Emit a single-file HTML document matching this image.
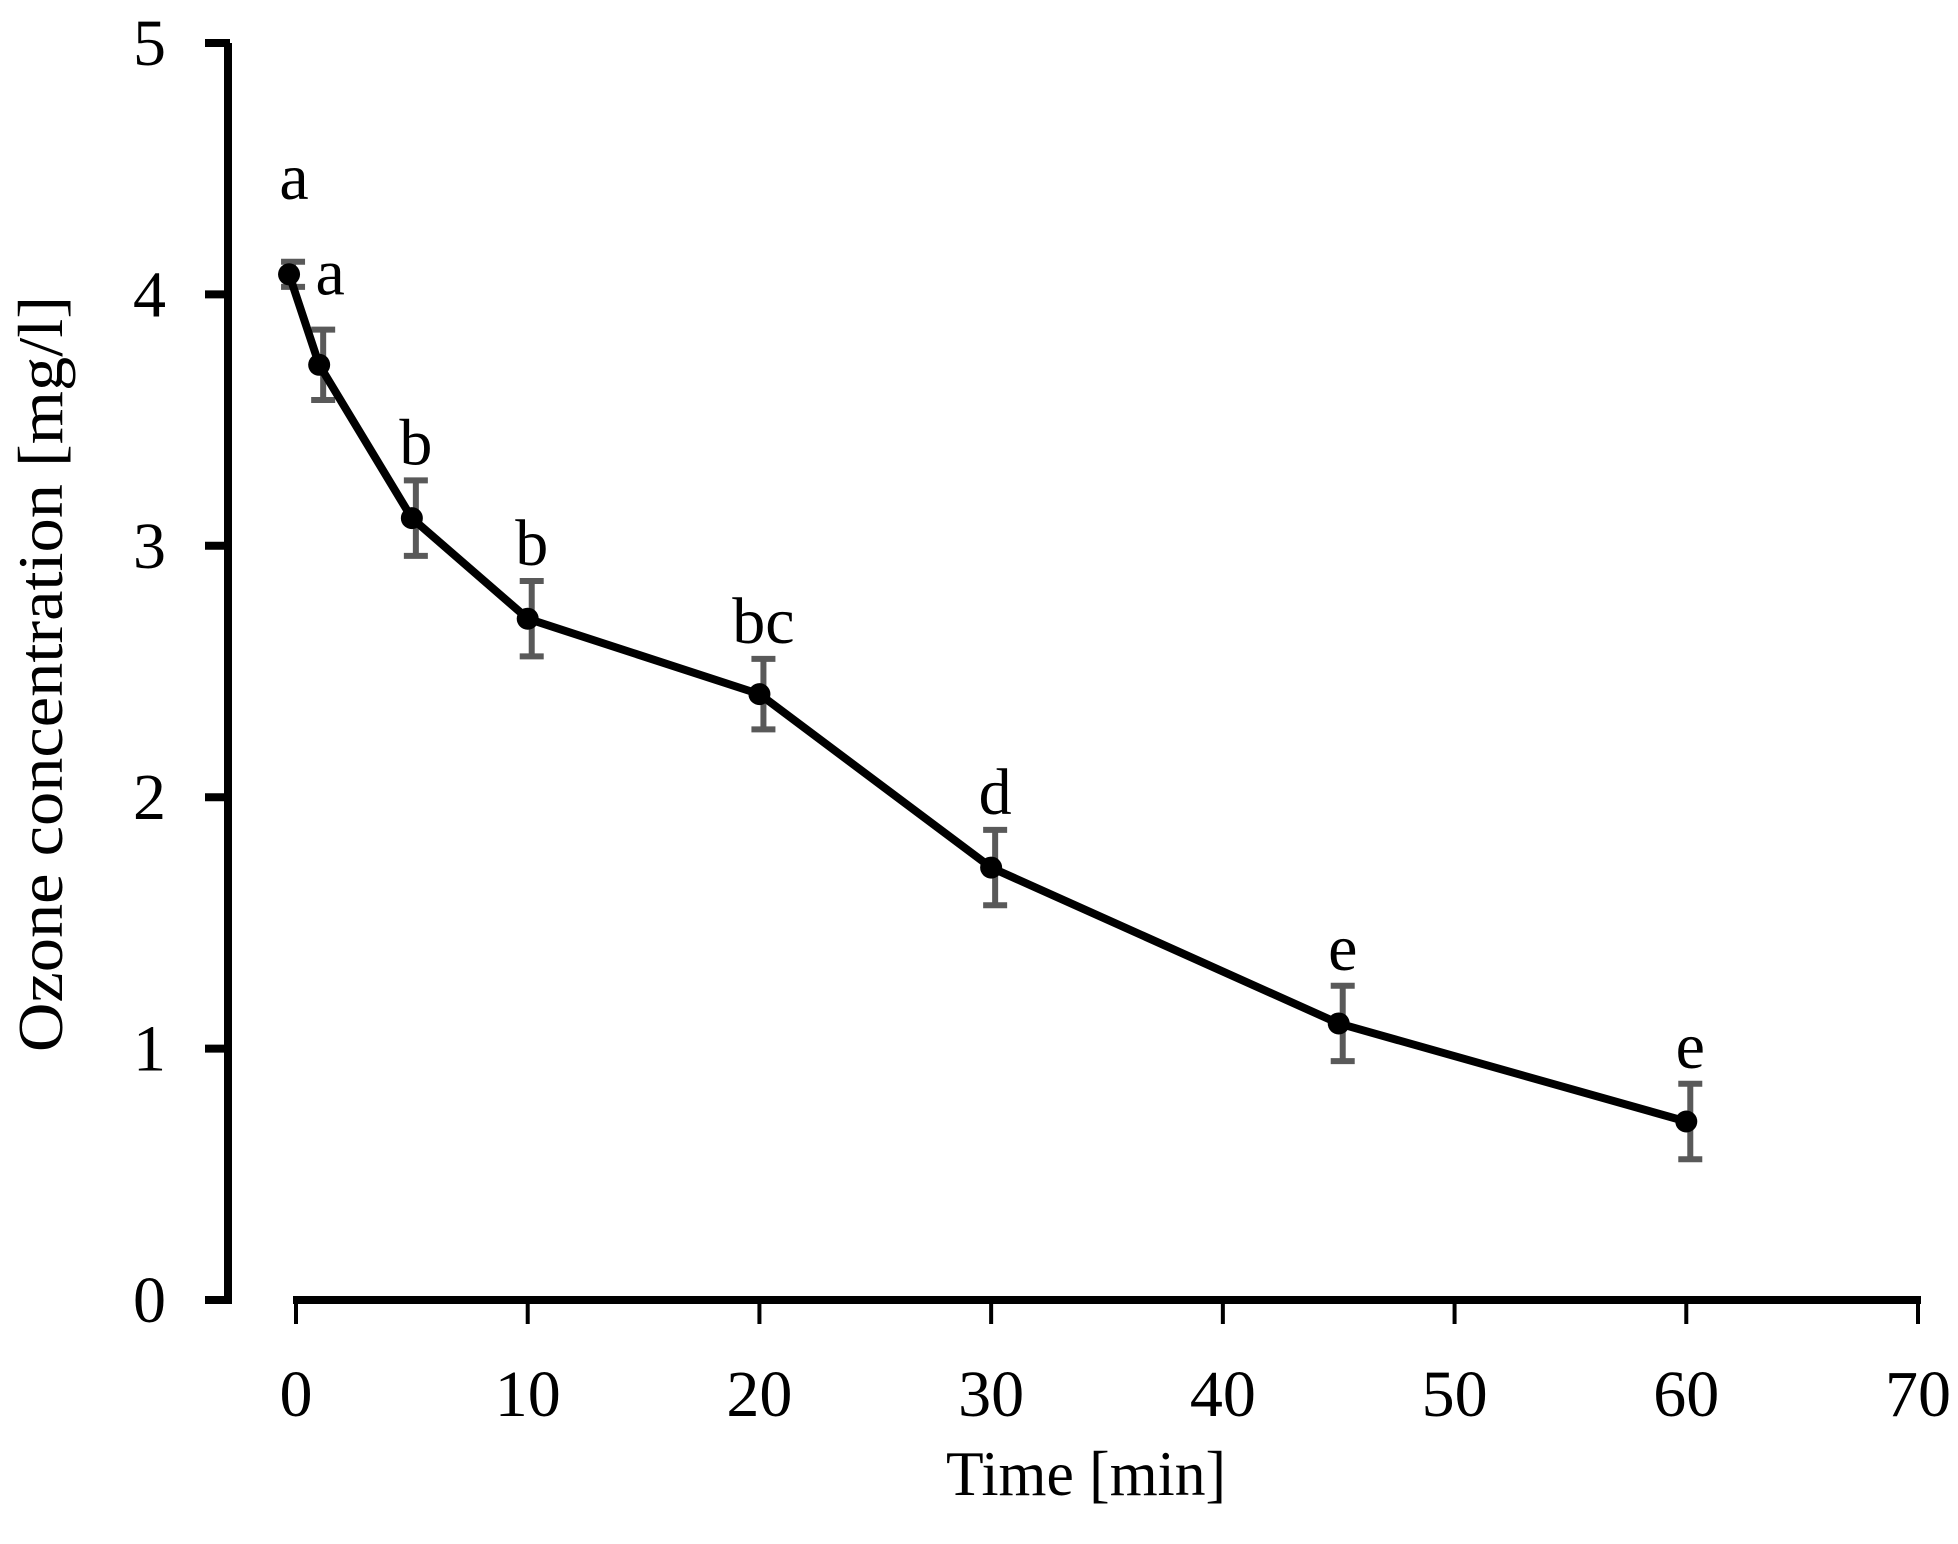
<!DOCTYPE html>
<html><head><meta charset="utf-8"><style>
html,body{margin:0;padding:0;background:#fff;}
svg{display:block;font-family:"Liberation Serif",serif;}
</style></head><body>
<svg id="chart" width="1958" height="1544" viewBox="0 0 1958 1544">
<g id="axes"></g><g id="series"></g><g id="labels"></g>
<text x="1086" y="1495" font-size="64" text-anchor="middle" textLength="280" lengthAdjust="spacingAndGlyphs">Time [min]</text>
<text transform="translate(62,674) rotate(-90)" font-size="64" text-anchor="middle" textLength="756" lengthAdjust="spacingAndGlyphs">Ozone concentration [mg/l]</text>
</svg>
<script>
const times=[-0.3,1,5,10,20,30,45,60];
const values=[4.08,3.72,3.11,2.71,2.41,1.72,1.10,0.71];
const errors=[0.05,0.14,0.15,0.15,0.14,0.15,0.15,0.15];
const letters=["a","a","b","b","bc","d","e","e"];
const xTicks=[0,10,20,30,40,50,60,70];
const yTicks=[0,1,2,3,4,5];
const NS="http://www.w3.org/2000/svg";
const X=t=>296+t*(1622/70);
const Y=v=>1300-v*251.4;
function mk(tag,attrs,parent){const e=document.createElementNS(NS,tag);for(const k in attrs)e.setAttribute(k,attrs[k]);parent.appendChild(e);return e;}
const axes=document.getElementById('axes'),series=document.getElementById('series'),labels=document.getElementById('labels');
let l=mk('line',{x1:228,y1:Y(5),x2:228,y2:1304,stroke:'#000','stroke-width':8},axes);


l=mk('line',{x1:X(0)-3,y1:1300,x2:X(70)+3,y2:1300,stroke:'#000','stroke-width':8},axes);


yTicks.forEach(v=>{
 const t=mk('line',{x1:205,y1:Y(v),x2:230,y2:Y(v),stroke:'#000','stroke-width':8},axes);
 
 
 const tx=mk('text',{x:166,y:Y(v)+22,'font-size':66,'text-anchor':'end'},axes);tx.textContent=v;
 
 
});
xTicks.forEach(v=>{
 const t=mk('line',{x1:X(v),y1:1300,x2:X(v),y2:1324,stroke:'#000','stroke-width':4},axes);
 
 
 const tx=mk('text',{x:X(v),y:1416,'font-size':66,'text-anchor':'middle'},axes);tx.textContent=v;
 
 
});
times.forEach((t,i)=>{
 const x=X(t)+4,y1=Y(values[i]+errors[i]),y2=Y(values[i]-errors[i]);
 const g=mk('g',{stroke:'#595959','stroke-width':6},series);
 
 
 mk('line',{x1:x,y1:y1,x2:x,y2:y2},g);
 mk('line',{x1:x-12,y1:y1,x2:x+12,y2:y1},g);
 mk('line',{x1:x-12,y1:y2,x2:x+12,y2:y2},g);
});
const pl=mk('polyline',{points:times.map((t,i)=>X(t)+','+Y(values[i])).join(' '),fill:'none',stroke:'#000','stroke-width':8,'stroke-linejoin':'round'},series);


times.forEach((t,i)=>{
 const c=mk('circle',{cx:X(t),cy:Y(values[i]),r:11,fill:'#000'},series);
 
 
});
letters.forEach((s,i)=>{
 let x=X(times[i]),y=Y(values[i]+errors[i])-16;
 if(i===0){x=X(0)-6;y=Y(4.38);}
 if(i===1){x=X(1.3);y=Y(4.0);}
 const tx=mk('text',{x:x+4,y:y,'font-size':66,'text-anchor':'middle'},labels);tx.textContent=s;
 
 
});
</script>
</body></html>
